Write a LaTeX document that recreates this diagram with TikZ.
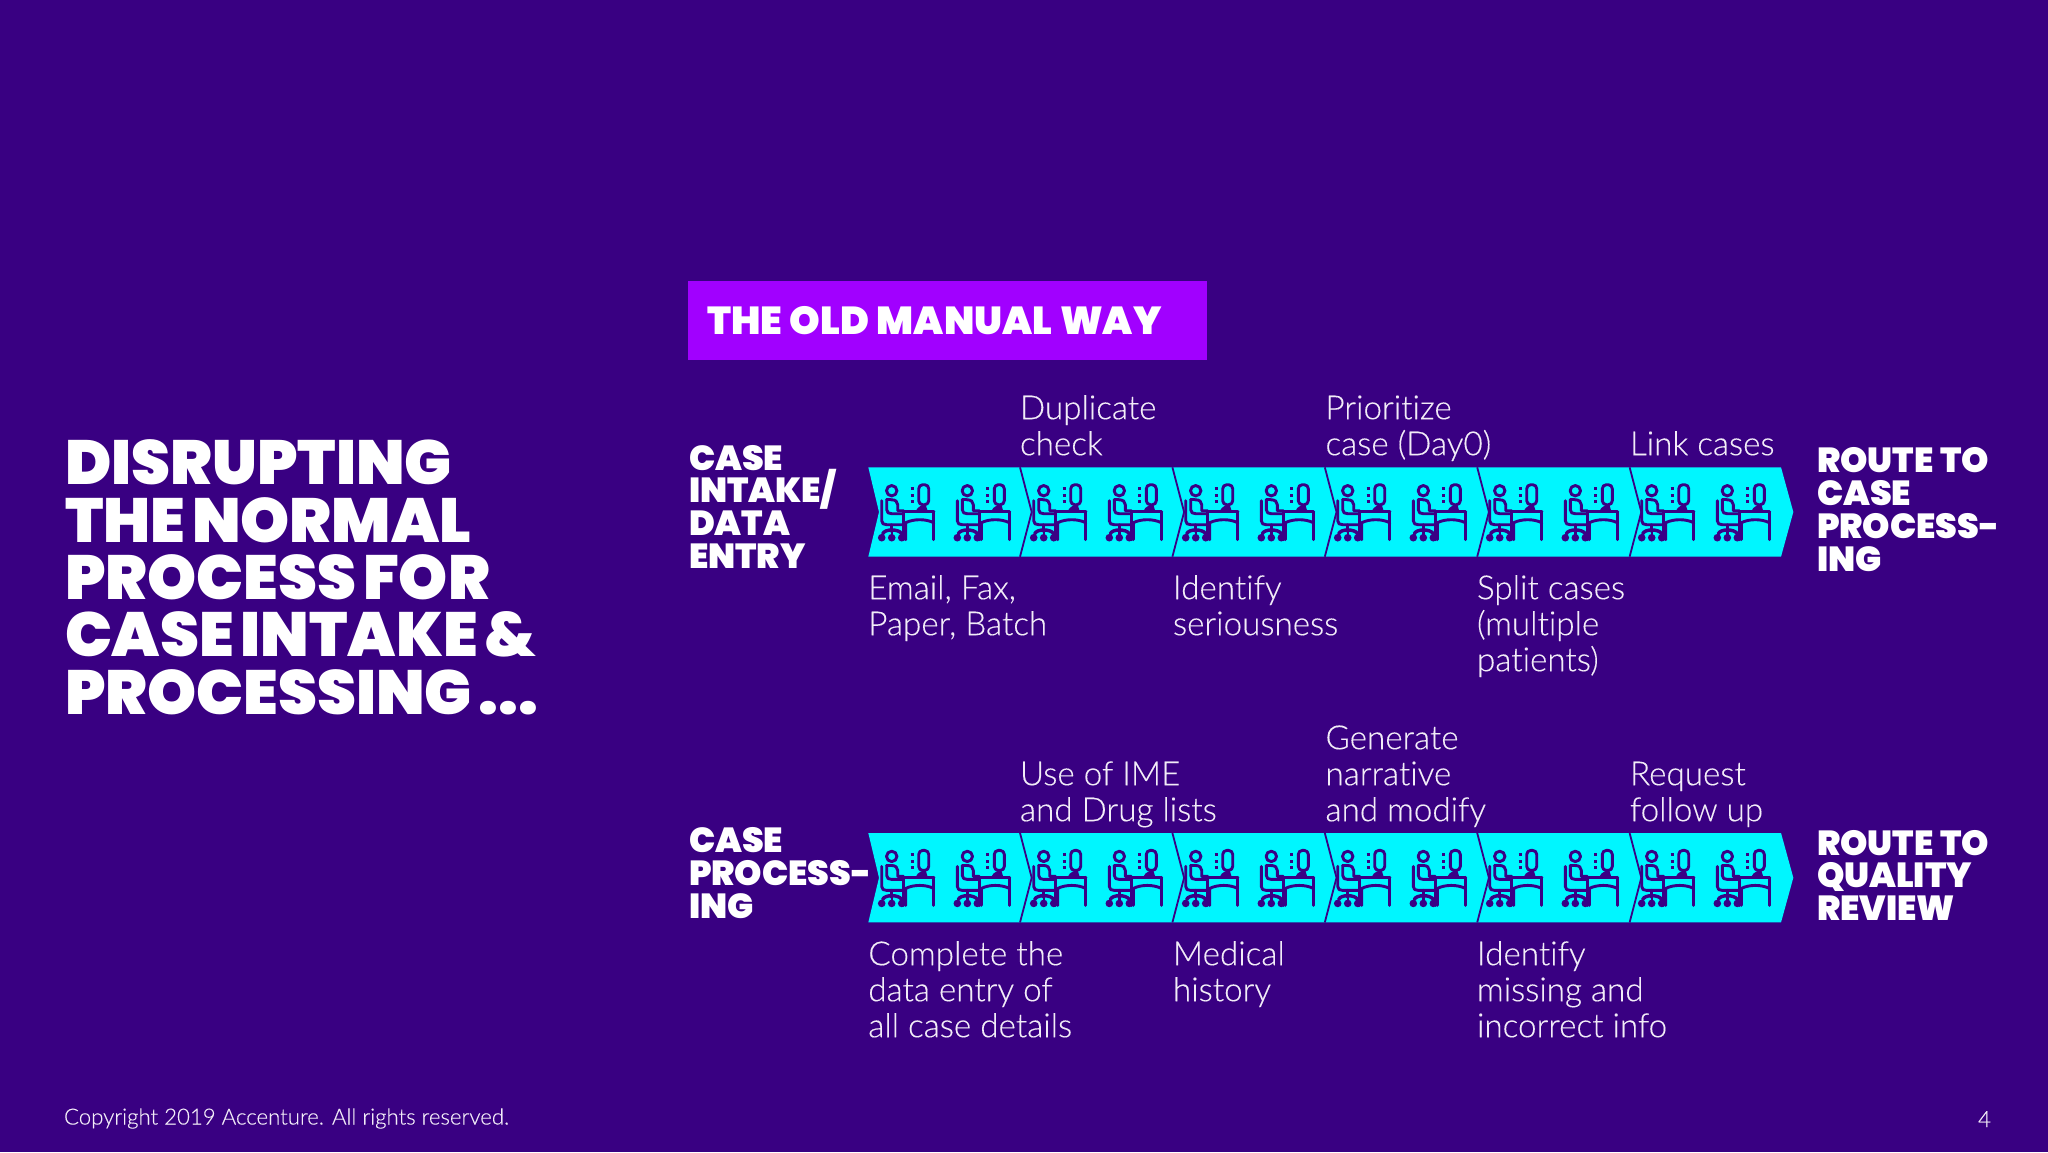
\documentclass[tikz,border=0pt]{standalone}
\usepackage{fontspec}
\setmainfont{Lato}
\newfontfamily\hw{Poppins Black}[WordSpace=1.15]
\newfontfamily\bd{Lato Light}[Ligatures=NoCommon,FakeBold=0.25]
\definecolor{bgc}{HTML}{390082}
\definecolor{band}{HTML}{00F6FF}
\definecolor{banner}{HTML}{A100FF}
\definecolor{ink}{HTML}{3A0085}
\definecolor{soft}{HTML}{F2ECF8}
\newcommand\tight{\lineskiplimit=-100pt\relax}
\newcommand\tsp{\hspace{.11em}}
\tikzset{
 base/.style={inner sep=0pt,outer sep=0pt,anchor=north west,align=left,text=white},
 title/.style={base,font=\hw\fontsize{31.2}{28.7}\selectfont\tight},
 tag/.style={base,font=\hw\fontsize{17.4}{16.4}\selectfont\tight},
 body/.style={base,text=soft,font=\bd\fontsize{16.6}{18}\selectfont\tight},
 worker/.pic={
  \begin{scope}[draw=ink,line width=1.45pt,line cap=round,line join=round]
   \draw (0,0) circle (5.2);
   \draw (-5,9) -- (-5,19) .. controls (-5,22) and (-3,23) .. (0,23) -- (11,23);
   \draw (-1,9) .. controls (4,9) and (6,11) .. (6,14) -- (6,20) -- (12,20);
   \draw (-5,9) -- (-1,9);
   \draw (-10,10) -- (-10,30) .. controls (-10,33) and (-8,34) .. (-5,34) -- (11,34);
   \draw (0,34) -- (0,41);
   \draw[line width=1.7pt] (-9,43) .. controls (-7,38) and (7,38) .. (10,43);
   \draw[line width=1.2pt] (0,41) -- (0,46);
   \fill[ink] (-10,47) circle (3.8) (0,47) circle (3.8) (10,47) circle (3.8);
   \draw (12,21) -- (12,49);
   \draw[line width=1.7pt] (12,21) -- (42,21);
   \draw (42,21) -- (42,49);
   \draw (14,49) -- (14,32) .. controls (22,28) and (34,28) .. (42,32);
   \draw[rounded corners=2pt] (27,-6) rectangle (37,14);
   \fill[ink] (24,20.5) .. controls (26,15) and (32,14) .. (34,14) -- (36,20.5) -- cycle;
   \draw[line width=1.3pt,line cap=butt] (19,-2) -- (22,-2) (19,5) -- (22,5) (19,11) -- (22,11);
  \end{scope}
 }
}
\newcommand\place[4]{\node[#1,yshift=30pt] (#2) at (#3) {\rule{0pt}{30pt}#4};}
\begin{document}
\begin{tikzpicture}[x=0.5pt,y=-0.5pt]
\useasboundingbox (0,0) rectangle (2048,1152);
\fill[bgc] (0,0) rectangle (2048,1152);
% banner
\fill[banner] (688.3,280.7) rectangle (1207,360);
\node[base,font=\hw\fontsize{19.5}{20}\selectfont,anchor=base west] (bannertext) at (707,334) {THE OLD MANUAL WAY};
% title
\place{title}{headline}{65,484.6}{DISRUPTING\\THE\tsp NORMAL\\PROCESS\tsp FOR\\CASE\tsp INTAKE\tsp\&\\PROCESSING\tsp...}
% row tags
\place{tag}{tagA}{689,470}{CASE\\INTAKE/\\DATA\\ENTRY}
\place{tag}{tagB}{1817,472.7}{ROUTE TO\\CASE\\PROCESS-\\ING}
\place{tag}{tagC}{689,852.5}{CASE\\PROCESS-\\ING}
\place{tag}{tagD}{1817,855}{ROUTE TO\\QUALITY\\REVIEW}
% bands
\foreach \n/\dy in {A/0,B/365.7}{
 \begin{scope}[yshift=-\dy*0.5pt]
  \fill[band] (868.3,467.3) -- (1781,467.3) -- (1793.3,512) -- (1781,556.7) -- (868.3,556.7) -- (879,512) -- cycle;
  \foreach \i in {0,...,4}{
   \draw[ink,line width=0.9pt] ({1020+152.4*\i},467.3) -- ({1031.7+152.4*\i},512) -- ({1020+152.4*\i},556.7);
  }
  \foreach \i in {0,...,5}{
   \pic at ({891.7+152*\i},490.7) {worker};
   \pic at ({967.3+152*\i},490.7) {worker};
  }
 \end{scope}
}
% row 1 labels
\place{body}{a1}{1020,419.2}{Duplicate\\check}
\place{body}{a2}{1325.5,419.2}{Prioritize\\case (Day0)}
\place{body}{a3}{1630,455.2}{Link cases}
\place{body}{a4}{868.3,599.2}{Email, Fax,\\Paper, Batch}
\place{body}{a5}{1173,599.2}{Identify\\seriousness}
\place{body}{a6}{1477,599.2}{Split cases\\(multiple\\patients)}
% row 2 labels
\place{body}{b1}{1020,785.2}{Use of IME\\and Drug lists}
\place{body}{b2}{1325.5,749.2}{Generate\\narrative\\and modify}
\place{body}{b3}{1630,785.2}{Request\\follow up}
\place{body}{b4}{868.3,965.2}{Complete the\\data entry of\\all case details}
\place{body}{b5}{1173,965.2}{Medical\\history}
\place{body}{b6}{1477,965.2}{Identify\\missing and\\incorrect info}
% footer
\node[base,text=soft,font=\bd\fontsize{11.1}{13}\selectfont,anchor=base west] (copy) at (64,1124.5) {Copyright 2019 Accenture. All rights reserved.};
\node[base,text=soft,font=\bd\fontsize{11.2}{13}\selectfont,anchor=base east] (pageno) at (1991,1127) {4};
\end{tikzpicture}
\end{document}
